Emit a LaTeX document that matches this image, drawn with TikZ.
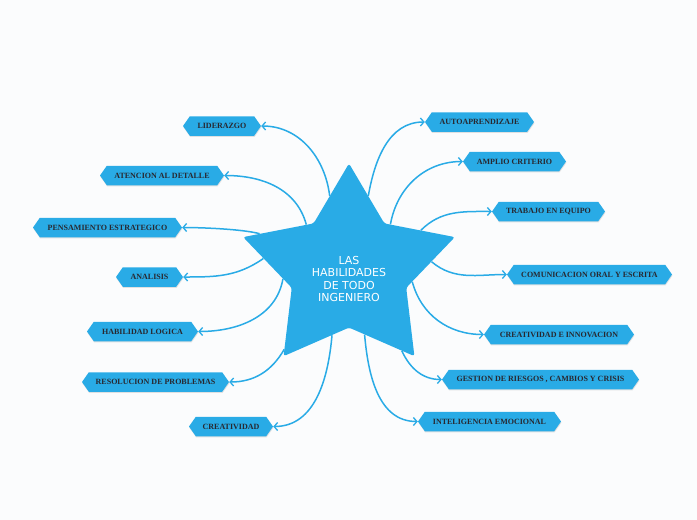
\documentclass[tikz,border=0pt]{standalone}
\usepackage{fontspec}
\setmainfont{Liberation Serif}
\newfontfamily\hubfont{DejaVu Sans}
\usetikzlibrary{shapes.geometric,shapes.symbols,arrows.meta,shadows}
\definecolor{skyb}{RGB}{41,171,230}
\definecolor{tagtext}{RGB}{40,40,48}
\definecolor{pagebg}{RGB}{251,252,253}
\pgfdeclarelayer{bg}
\pgfsetlayers{bg,main}
\tikzset{
  tag/.style={signal, signal to=west and east, signal pointer angle=110,
    fill=skyb, draw=none, minimum height=19.5pt, inner ysep=0pt, inner xsep=2pt,
    font=\bfseries\fontsize{8}{8}\selectfont, text=tagtext,
    drop shadow={opacity=0.22, shadow xshift=0.4pt, shadow yshift=-1.2pt}},
  hubstar/.style={star, star points=5, star point ratio=1.85, fill=skyb,
    minimum size=213pt, inner sep=0pt, rounded corners=2.5pt},
  link/.style={draw=skyb, line width=1.5pt,
    -{Straight Barb[length=3.5pt,width=8pt,line width=1.3pt]}},
}
\begin{document}
\begin{tikzpicture}[x=1pt,y=1pt]
\useasboundingbox (0,0) rectangle (697,-520);
\node[hubstar, transform shape, xscale=1.045] (hub) at (349,-270) {};
\node[text=white, align=center, font=\hubfont\fontsize{11}{12.6}\selectfont] (title) at (349,-279) {LAS\\HABILIDADES\\DE TODO\\INGENIERO};
% left
\node[tag, minimum width=78pt] (lid) at (222,-126) {LIDERAZGO};
\node[tag, minimum width=124pt] (ate) at (162,-175.5) {ATENCION AL DETALLE};
\node[tag, minimum width=149pt] (pen) at (107.5,-227.5) {PENSAMIENTO ESTRATEGICO};
\node[tag, minimum width=67pt] (ana) at (149.5,-277) {ANALISIS};
\node[tag, minimum width=111pt] (hab) at (142.5,-331.5) {HABILIDAD LOGICA};
\node[tag, minimum width=147pt] (res) at (155.5,-382) {RESOLUCION DE PROBLEMAS};
\node[tag, minimum width=84pt] (cre) at (231,-426.5) {CREATIVIDAD};
% right
\node[tag, minimum width=109pt] (aut) at (479.5,-122) {AUTOAPRENDIZAJE};
\node[tag, minimum width=103pt] (amp) at (514.5,-161.5) {AMPLIO CRITERIO};
\node[tag, minimum width=113pt] (tra) at (548.5,-211.5) {TRABAJO EN EQUIPO};
\node[tag, minimum width=165pt] (com) at (589.5,-274.5) {COMUNICACION ORAL Y ESCRITA};
\node[tag, minimum width=150pt] (cin) at (559,-334.5) {CREATIVIDAD E INNOVACION};
\node[tag, minimum width=197pt] (ges) at (540.5,-379.5) {GESTION DE RIESGOS , CAMBIOS Y CRISIS};
\node[tag, minimum width=143pt] (int) at (489.5,-421.5) {INTELIGENCIA EMOCIONAL};
\begin{pgfonlayer}{bg}
\fill[pagebg] (0,0) rectangle (697,-520);
\draw[link] (hub.104) to[out=97, in=0] (lid.east);
\draw[link] (hub.132) to[out=105, in=0] (ate.east);
\draw[link] (hub.157) to[out=165, in=0, looseness=0.6] (pen.east);
\draw[link] (hub.172) to[out=215, in=0] (ana.east);
\draw[link] (hub.188) to[out=260, in=0] (hab.east);
\draw[link] (hub.232) to[out=240, in=0] (res.east);
\draw[link] (hub.256) to[out=265, in=0] (cre.east);
\draw[link] (hub.76.5) to[out=80, in=180] (aut.west);
\draw[link] (hub.49.5) to[out=80, in=180] (amp.west);
\draw[link] (hub.30.5) to[out=45, in=180] (tra.west);
\draw[link] (hub.6) to[out=320, in=180] (com.west);
\draw[link] (hub.349) to[out=285, in=180] (cin.west);
\draw[link] (hub.302) to[out=295, in=180] (ges.west);
\draw[link] (hub.283.5) to[out=275, in=180] (int.west);
\end{pgfonlayer}
\end{tikzpicture}
\end{document}
